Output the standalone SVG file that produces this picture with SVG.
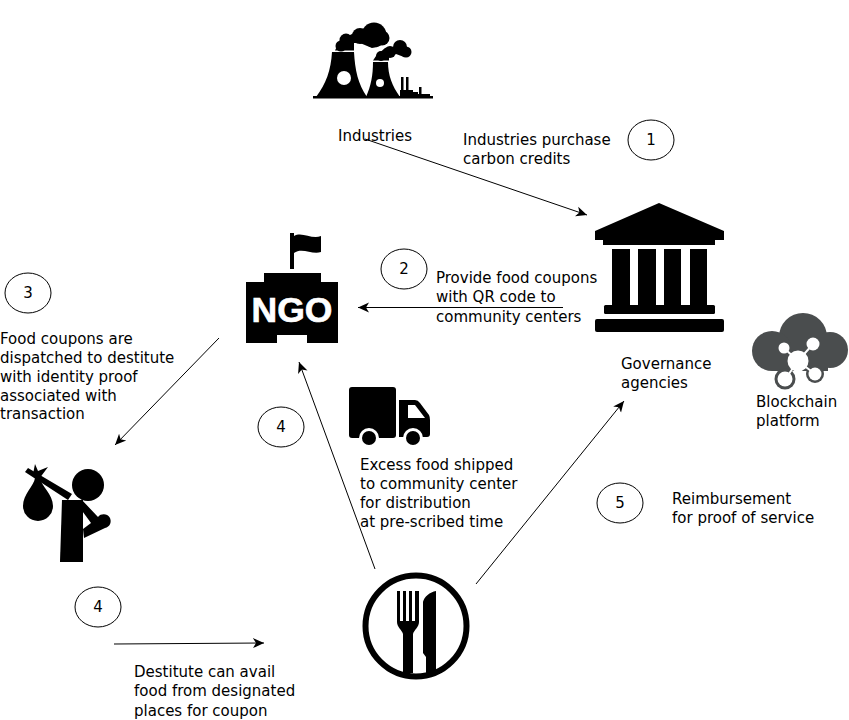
<svg xmlns="http://www.w3.org/2000/svg" width="849" height="720" viewBox="0 0 849 720">
<style>
text{font-family:"DejaVu Sans",sans-serif;font-size:15px;fill:#000}
.c{fill:#fff;stroke:#000;stroke-width:1}
.l{fill:none;stroke:#000;stroke-width:1;marker-end:url(#a)}
.n{text-anchor:middle}
</style>
<defs>
<marker id="a" markerUnits="userSpaceOnUse" markerWidth="14" markerHeight="12" refX="11" refY="5" orient="auto" viewBox="0 0 14 10"><path d="M0 0L11 5L0 10L3 5Z" fill="#000"/></marker>
</defs>
<rect width="849" height="720" fill="#fff"/>
<g id="connectors">
<path class="l" d="M365 139L587 215"/>
<path class="l" d="M563 307.500L358 307.500"/>
<path class="l" d="M219 338L115 445"/>
<path class="l" d="M375 569L299 362"/>
<path class="l" d="M476 584L624 401"/>
<path class="l" d="M114 644L264 643"/>
</g>
<g id="industries">
<path d="M313 96H433V98.500H313Z"/>
<path d="M332 52H354C355 70 358 84 367 97H316C326 84 331 70 332 52Z"/>
<path d="M373 62H388C388 75 392 86 400 97H366C371 86 373 75 373 62Z"/>
<path d="M401 77H403.500V97H401ZM406 77H408.500V97H406ZM419 87H421.500V97H419ZM400 90H413V92H418V94H430V97H400Z"/>
<circle cx="344" cy="78" r="7" fill="#fff"/><circle cx="380" cy="83" r="4" fill="#fff"/>
<g>
<circle cx="374" cy="35" r="12.500"/><circle cx="360" cy="36" r="8"/><circle cx="382" cy="38" r="7.500"/><circle cx="346" cy="40" r="6.500"/><circle cx="341" cy="46" r="5.500"/>
<path d="M335 50.500H354V43L360 43L372 48L381 45L386 36L360 30L340 40Z"/>
</g>
<g>
<circle cx="400" cy="47" r="7"/><circle cx="406" cy="52" r="5.500"/><circle cx="390" cy="52" r="6"/><circle cx="381" cy="56" r="5"/>
<path d="M373 60.500H389V56L396 54L404 57L405 46L385 48L376 56Z"/>
</g>
<text x="338" y="141">Industries</text>
</g>
<g id="label1">
<text x="463" y="145">Industries purchase</text><text x="463" y="164">carbon credits</text>
<ellipse class="c" cx="651" cy="140" rx="23" ry="20"/><text class="n" x="651" y="145">1</text>
</g>
<g id="governance">
<path d="M659 203L724 231V240H715V245H603V240H595V231Z"/>
<path d="M612 249H630V305H612ZM638 249H656V305H638ZM664 249H681V305H664ZM690 249H707V305H690Z"/>
<rect x="604" y="305" width="111" height="9" rx="1.500"/>
<rect x="595" y="319" width="129" height="13" rx="2"/>
<text x="621" y="369">Governance</text><text x="621" y="388">agencies</text>
</g>
<g id="blockchain">
<circle cx="803" cy="337" r="24" fill="#4a4d4e"/><circle cx="772" cy="351" r="20" fill="#4a4d4e"/><circle cx="830" cy="350" r="18" fill="#4a4d4e"/>
<rect x="772" y="345" width="56" height="26" fill="#4a4d4e"/>
<circle cx="785" cy="379" r="10.500" fill="#4a4d4e"/><circle cx="815" cy="374" r="9" fill="#4a4d4e"/>
<path d="M784 348L798 361L813 344M798 361L786 378M798 361L815 374" stroke="#fff" stroke-width="2" fill="none"/>
<circle cx="798" cy="361" r="10.500" fill="#fff"/><circle cx="813" cy="344" r="6.500" fill="#fff"/><circle cx="784" cy="348" r="5.500" fill="#fff"/>
<circle cx="815" cy="374" r="6.500" fill="#fff"/><circle cx="785" cy="379" r="7.500" fill="#fff"/>
<text x="756" y="407">Blockchain</text><text x="756" y="426">platform</text>
</g>
<g id="ngo">
<path d="M246 282H264V273H321V282H338V343H307V335H277V343H246Z"/>
<rect x="290" y="233" width="4" height="36"/>
<path d="M294 236C302 231 312 240 321 236V252C312 255 302 247 294 253Z"/>
<text x="292" y="322" text-anchor="middle" style="font-family:'Liberation Sans',sans-serif;font-weight:700;font-size:35.500px;fill:#fff;stroke:#fff;stroke-width:.7">NGO</text>
</g>
<g id="label2">
<ellipse class="c" cx="404" cy="269" rx="23" ry="20"/><text class="n" x="404" y="274">2</text>
<text x="436" y="283">Provide food coupons</text><text x="436" y="302">with QR code to</text><text x="436" y="322">community centers</text>
</g>
<g id="label3">
<ellipse class="c" cx="28" cy="293" rx="23" ry="20"/><text class="n" x="28" y="298">3</text>
<text x="0" y="344">Food coupons are</text><text x="0" y="363">dispatched to destitute</text><text x="0" y="382">with identity proof</text><text x="0" y="401">associated with</text><text x="0" y="419">transaction</text>
</g>
<g id="destitute">
<circle cx="88" cy="485" r="16"/>
<path d="M62 500H83V562H60Z"/>
<path d="M81 499L98 517A7 7 0 1 1 105 528L84 538L83 529L91 523L80 508Z"/>
<path d="M25 472L28 468L72 494L68 500Z"/>
<path d="M35 478C34 486 23 494 23 506A15 15 0 0 0 53 506C53 494 41 486 40 478Z"/>
<path d="M33 474L35 464L38 471L48 467L39 479Z"/>
</g>
<g id="label4a">
<ellipse class="c" cx="281" cy="427" rx="23" ry="20"/><text class="n" x="281" y="432">4</text>
</g>
<g id="truck">
<rect x="349" y="387" width="47" height="51" rx="3"/>
<path d="M399 400H415Q418 400 420 403L429 415Q430 417 430 420V434Q430 437 427 437H399Z"/>
<path d="M408 405H415L425 418H408Z" fill="#fff"/>
<circle cx="369" cy="438" r="10" fill="#fff"/><circle cx="369" cy="438" r="7"/>
<circle cx="413" cy="438" r="10" fill="#fff"/><circle cx="413" cy="438" r="7"/>
<rect x="340" y="445" width="100" height="5" fill="#fff"/>
<text x="360" y="470">Excess food shipped</text><text x="360" y="489">to community center</text><text x="360" y="508">for distribution</text><text x="360" y="527">at pre-scribed time</text>
</g>
<g id="label5">
<ellipse class="c" cx="620" cy="503" rx="23" ry="20"/><text class="n" x="620" y="508">5</text>
<text x="672" y="504">Reimbursement</text><text x="672" y="523">for proof of service</text>
</g>
<g id="label4b">
<ellipse class="c" cx="98" cy="607" rx="23" ry="20"/><text class="n" x="98" y="612">4</text>
<text x="134" y="677">Destitute can avail</text><text x="134" y="696">food from designated</text><text x="134" y="716">places for coupon</text>
</g>
<g id="food">
<circle cx="416" cy="626" r="50.500" fill="#fff" stroke="#000" stroke-width="6"/>
<path d="M397 591H400V621H403V591H406V621H409V591H412V621H415V591H419V622C419 627 414 630 413 634V673H403V634C402 630 397 627 397 622Z"/>
<path d="M436 591V672L426 673V657L423 653V602C424 597 430 592 436 591Z"/>
</g>
</svg>
